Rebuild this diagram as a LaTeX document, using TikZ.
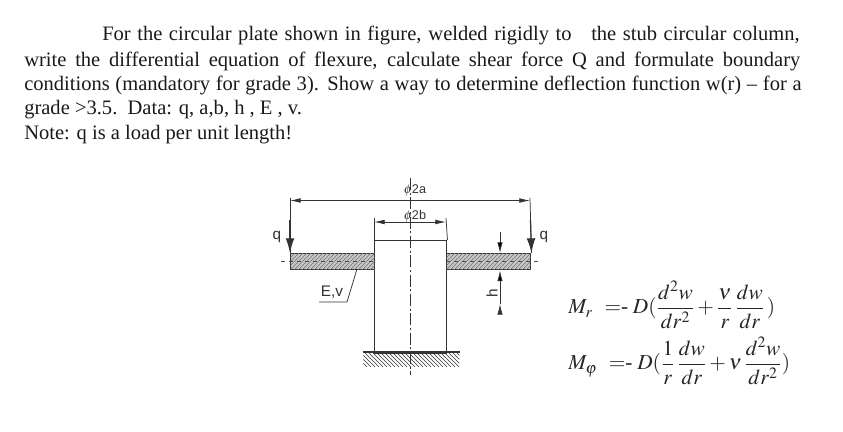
\documentclass[tikz,border=0pt]{standalone}
\usepackage{mathptmx}
\usepackage{amsmath}
\usepackage[no-math]{fontspec}
\setmainfont{Liberation Serif}
\newfontfamily\labelfont{Liberation Sans}
\usetikzlibrary{calc, arrows.meta, positioning, patterns}
\usepackage{xcolor}
\definecolor{linegray}{HTML}{333333}

\begin{document}
\begin{tikzpicture}[x=0.75pt, y=-0.75pt, >=latex]
	\tikzstyle{textline} = [anchor=base west, inner sep=0, font=\fontsize{15.4}{15}\selectfont, text=black!90]
	\tikzstyle{formula} = [anchor=west, inner sep=0, font=\fontsize{16}{16}\selectfont, text=black!85]
	\tikzstyle{dimlabel} = [inner sep=0, font=\labelfont\fontsize{9.5}{10}\selectfont, text=linegray]
	\tikzstyle{biglabel} = [dimlabel, font=\labelfont\fontsize{11.5}{12}\selectfont]
	\tikzstyle{body} = [draw=linegray, line width=1.1pt, inner sep=0, anchor=north west]
	\tikzstyle{plate} = [body, minimum width=63pt, minimum height=12pt, fill=black!22, postaction={pattern=north east lines, pattern color=black!55}]
	\tikzstyle{thinline} = [draw=linegray, line width=0.55pt]
	\tikzstyle{dimline} = [thinline, {Latex[length=8pt, width=3.5pt]}-{Latex[length=8pt, width=3.5pt]}]
	\tikzstyle{load} = [draw=linegray, line width=0.9pt, -{Latex[length=11pt, width=6.5pt]}]
	\tikzstyle{hline} = [draw=linegray, line width=0.55pt, -{Latex[length=8pt, width=4pt]}]

	\useasboundingbox (0,0) rectangle (843,432);

	% problem text
	\node[textline] at (102, 40.5)	(line1) {\makebox[523pt][s]{For the circular plate shown in figure, welded rigidly to\ \ \ the stub circular column,}};
	\node[textline] at (24, 66)		(line2) {\makebox[582pt][s]{write the differential equation of flexure, calculate shear force Q and formulate boundary}};
	\node[textline] at (24, 90)		(line3) {\makebox[583pt][s]{conditions (mandatory for grade 3). Show a way to determine deflection function w(r) -- for a}};
	\node[textline] at (24, 114.5)	(line4) {grade >3.5.\ \ Data: q, a,b, h , E , v.};
	\node[textline] at (24, 139)	(line5) {Note: q is a load per unit length!};

	% plate and column
	\node[body, minimum width=54pt, minimum height=84.5pt] at (374, 240) (column) {};
	\node[plate] at (290, 253) (plateL) {};
	\node[plate] at (446, 253) (plateR) {};
	\node[anchor=north west, inner sep=0, minimum width=72pt, minimum height=10.5pt, pattern=north west lines, pattern color=linegray] at (363, 352) (ground) {};

	\coordinate (axisT) at (410, 178);
	\coordinate (axisB) at (410, 375);
	\coordinate (midLa) at (281, 261);
	\coordinate (midLb) at (374, 261);
	\coordinate (midRa) at (446, 261);
	\coordinate (midRb) at (541, 261);
	\draw[thinline, dash pattern=on 9pt off 2pt on 1.5pt off 2pt] (axisT) -- (axisB);
	\draw[thinline, dashed, draw=black!70] (midLa) -- (midLb);
	\draw[thinline, dashed, draw=black!70] (midRa) -- (midRb);
	\draw[draw=linegray, line width=1.1pt] (ground.north west) -- (ground.north east);

	% dimensions
	\coordinate (extaL) at (290, 198);
	\coordinate (extaR) at (530, 198);
	\coordinate (dimaL) at (290, 200.5);
	\coordinate (dimaR) at (530, 200.5);
	\coordinate (extbL) at (374, 218);
	\coordinate (extbR) at (446, 218);
	\coordinate (dimbL) at (374, 222);
	\coordinate (dimbR) at (446, 222);
	\draw[thinline] (extaL) -- (plateL.north west);
	\draw[thinline] (extaR) -- (plateR.north east);
	\draw[thinline] (extbL) -- (column.north west);
	\draw[thinline] (extbR) -- (column.north east);
	\draw[dimline] (dimaL) -- (dimaR);
	\draw[dimline] (dimbL) -- (dimbR);
	\node[dimlabel] at (415, 191) (labela) {$\phi$2a};
	\node[dimlabel] at (415, 216) (labelb) {$\phi$2b};

	% loads
	\coordinate (loadL) at (290, 220);
	\coordinate (loadR) at (530.5, 220);
	\draw[load] (loadL) -- (plateL.north west);
	\draw[load] (loadR) -- (plateR.north east);
	\node[biglabel] at (277, 237) (qL) {q};
	\node[biglabel] at (544, 237) (qR) {q};

	% thickness
	\coordinate (hT) at (500, 232);
	\coordinate (hB) at (500, 304);
	\path[hline]
	(hT)	edge	(hT |- plateR.north)
	(hB)	edge	(hB |- plateR.south);
	\node[biglabel, rotate=90] at (492, 293) (labelh) {h};

	% material
	\coordinate (evA) at (319, 302);
	\coordinate (evB) at (347, 302);
	\coordinate (evC) at (357, 269);
	\draw[thinline] (evA) -- (evB) -- (evC);
	\node[biglabel] at (332, 292) (labelev) {E,v};

	% moments
	\node[formula] at (568, 305) (momentr) {$\displaystyle M_{r}\;\;\,{=}\text{-}\;D(\frac{d^{2}w}{dr^{2}}+\frac{\nu}{r}\,\frac{dw}{dr}\,)$};
	\node[formula] at (568, 361) (momentf) {$\displaystyle M_{\varphi}\;\;\,{=}\text{-}\;D(\frac{1}{r}\,\frac{dw}{dr}+\nu\,\frac{d^{2}w}{dr^{2}})$};
\end{tikzpicture}
\end{document}
